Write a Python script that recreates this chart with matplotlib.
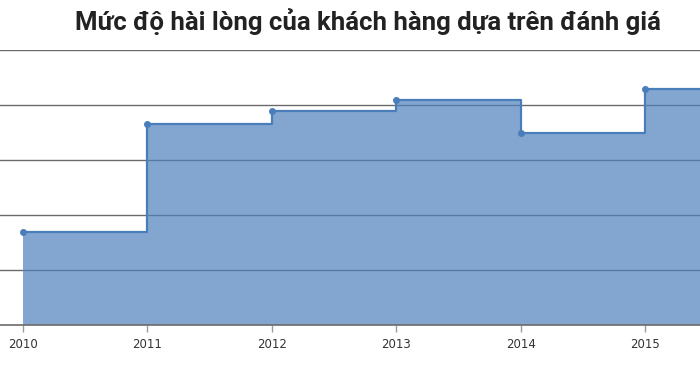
import numpy as np
import matplotlib.pyplot as plt

# Dữ liệu (thang 0-100, lưới mỗi 20)
nam = [2010, 2011, 2012, 2013, 2014, 2015, 2016]
muc_do = [34, 73, 78, 82, 70, 86, 86]
nhan_truc_x = ['2010', '2011', '2012', '2013', '2014', '2015']
tieu_de = 'Mức độ hài lòng của khách hàng dựa trên đánh giá'

fig = plt.figure(figsize=(7, 3.66), dpi=100)
ax = fig.add_axes([0, 0.112, 1, 0.751])

# vùng tô + đường bậc thang
ax.fill_between(nam, muc_do, step='post', color='#4f81bd', alpha=0.7,
                linewidth=0, zorder=2)
ax.step(nam, muc_do, where='post', color='#4a7ebb', linewidth=1.6, zorder=3)
ax.plot(nam[:-1], muc_do[:-1], 'o', color='#4a7ebb', markersize=4, zorder=4)

ax.set_xlim(2009.815, 2015.442)
ax.set_ylim(0, 100)
ax.set_yticks([20, 40, 60, 80, 100])
ax.yaxis.grid(True, color='#6b6b6b', linewidth=1)
ax.set_axisbelow(True)
ax.tick_params(axis='y', left=False, labelleft=False)

ax.set_xticks(nam[:-1])
ax.set_xticklabels(nhan_truc_x)
ax.tick_params(axis='x', colors='#9a9a9a', length=5, width=1, labelsize=8.5,
               labelcolor='#333333', pad=4)

for s in ['left', 'right', 'top']:
    ax.spines[s].set_visible(False)
ax.spines['bottom'].set_color('#6b6b6b')
ax.spines['bottom'].set_linewidth(1.2)

fig.text(0.525, 0.94, tieu_de, ha='center', va='center', fontsize=18.5,
         fontweight='bold', color='#222222',
         family=['Roboto', 'DejaVu Sans'])

fig.savefig('out.png', dpi=100)
